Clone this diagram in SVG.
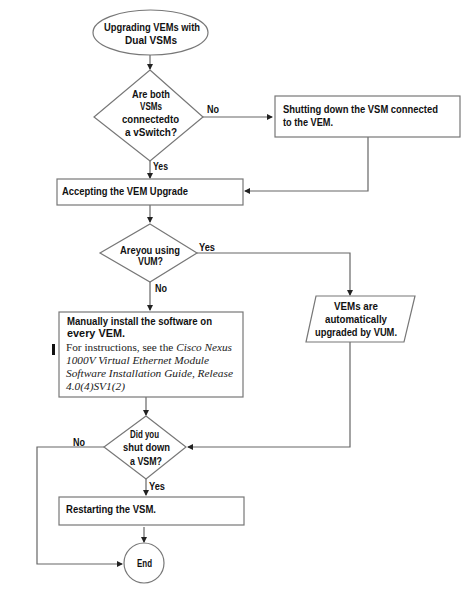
<svg xmlns="http://www.w3.org/2000/svg" width="474" height="593" viewBox="0 0 474 593">
<defs>
<marker id="ah" markerWidth="6" markerHeight="6" refX="5" refY="3" orient="auto" markerUnits="userSpaceOnUse">
<path d="M0,0 L6,3 L0,6 Z" fill="#222"/>
</marker>
<style>
.shape{fill:#fff;stroke:#777;stroke-width:1.2}
.conn{fill:none;stroke:#666;stroke-width:1.2}
.t{font-family:"Liberation Sans Narrow","Liberation Sans",Arial,sans-serif;font-weight:bold;font-size:11px;fill:#111}
.c{text-anchor:middle}
.s{font-family:"Liberation Serif","Times New Roman",serif;font-size:11.2px;fill:#222}
.i{font-style:italic}
</style>
</defs>
<rect width="474" height="593" fill="#fff"/>
<g id="connectors">
<path class="conn" d="M150,55 L150,69" marker-end="url(#ah)"/>
<path class="conn" d="M203,117 L272,117" marker-end="url(#ah)"/>
<path class="conn" d="M368,137 L368,191 L245,191" marker-end="url(#ah)"/>
<path class="conn" d="M150,161 L150,178" marker-end="url(#ah)"/>
<path class="conn" d="M150,205 L150,222" marker-end="url(#ah)"/>
<path class="conn" d="M197,253 L350,253 L350,295" marker-end="url(#ah)"/>
<path class="conn" d="M150,282 L150,310" marker-end="url(#ah)"/>
<path class="conn" d="M146,397 L146,415" marker-end="url(#ah)"/>
<path class="conn" d="M350,342 L350,447 L188,447" marker-end="url(#ah)"/>
<path class="conn" d="M104,447 L37,447 L37,564 L122,564" marker-end="url(#ah)"/>
<path class="conn" d="M146,479 L146,495" marker-end="url(#ah)"/>
<path class="conn" d="M144,527 L144,542" marker-end="url(#ah)"/>
<text class="t" x="207" y="113" textLength="12" lengthAdjust="spacingAndGlyphs">No</text>
<text class="t" x="153" y="170" textLength="15" lengthAdjust="spacingAndGlyphs">Yes</text>
<text class="t" x="199" y="251" textLength="16" lengthAdjust="spacingAndGlyphs">Yes</text>
<text class="t" x="155" y="292" textLength="12" lengthAdjust="spacingAndGlyphs">No</text>
<text class="t" x="73" y="446" textLength="12" lengthAdjust="spacingAndGlyphs">No</text>
<text class="t" x="149" y="490" textLength="16" lengthAdjust="spacingAndGlyphs">Yes</text>
</g>
<g id="start">
<ellipse class="shape" cx="150.5" cy="32.5" rx="57.5" ry="22.5"/>
<text class="t c" x="152" y="31" textLength="96" lengthAdjust="spacingAndGlyphs">Upgrading VEMs with</text>
<text class="t c" x="151" y="44" textLength="52" lengthAdjust="spacingAndGlyphs">Dual VSMs</text>
</g>
<g id="q-both-connected">
<polygon class="shape" points="150,70 203,117 150,161 94,117"/>
<text class="t c" x="151" y="98" textLength="38" lengthAdjust="spacingAndGlyphs">Are both</text>
<text class="t c" x="151" y="110" textLength="22" lengthAdjust="spacingAndGlyphs">VSMs</text>
<text class="t c" x="150.5" y="123" textLength="57" lengthAdjust="spacingAndGlyphs">connectedto</text>
<text class="t c" x="151" y="136" textLength="52" lengthAdjust="spacingAndGlyphs">a vSwitch?</text>
</g>
<g id="shutting-down">
<rect class="shape" x="275" y="96" width="185" height="41"/>
<text class="t" x="283" y="113" textLength="155" lengthAdjust="spacingAndGlyphs">Shutting down the VSM connected</text>
<text class="t" x="283" y="126" textLength="50" lengthAdjust="spacingAndGlyphs">to the VEM.</text>
</g>
<g id="accepting">
<rect class="shape" x="57" y="179" width="186" height="26"/>
<text class="t" x="62" y="195" textLength="126" lengthAdjust="spacingAndGlyphs">Accepting the VEM Upgrade</text>
</g>
<g id="q-vum">
<polygon class="shape" points="150,224 197,253 150,282 100,253"/>
<text class="t c" x="150" y="254" textLength="60" lengthAdjust="spacingAndGlyphs">Areyou using</text>
<text class="t c" x="150.5" y="265" textLength="25" lengthAdjust="spacingAndGlyphs">VUM?</text>
</g>
<g id="manual-install">
<rect class="shape" x="59" y="312" width="184" height="85"/>
<text class="t" x="67" y="325" textLength="145" lengthAdjust="spacingAndGlyphs">Manually install the software on</text>
<text class="t" x="67" y="337" textLength="58" lengthAdjust="spacingAndGlyphs">every VEM.</text>
<text class="s" x="66" y="351" textLength="166" lengthAdjust="spacingAndGlyphs">For instructions, see the <tspan class="i">Cisco Nexus</tspan></text>
<text class="s i" x="66" y="364" textLength="143" lengthAdjust="spacingAndGlyphs">1000V Virtual Ethernet Module</text>
<text class="s i" x="66" y="377" textLength="167" lengthAdjust="spacingAndGlyphs">Software Installation Guide, Release</text>
<text class="s i" x="66" y="390" textLength="59" lengthAdjust="spacingAndGlyphs">4.0(4)SV1(2)</text>
<rect x="52" y="344" width="3" height="11" fill="#111"/>
</g>
<g id="vum-auto">
<polygon class="shape" points="316,296 415,296 404,342 306,342"/>
<text class="t c" x="356" y="310" textLength="44" lengthAdjust="spacingAndGlyphs">VEMs are</text>
<text class="t c" x="356" y="323" textLength="62" lengthAdjust="spacingAndGlyphs">automatically</text>
<text class="t c" x="356" y="336" textLength="82" lengthAdjust="spacingAndGlyphs">upgraded by VUM.</text>
</g>
<g id="q-shut-down">
<polygon class="shape" points="146,416 186,447 146,479 104,447"/>
<text class="t c" x="144.5" y="438" textLength="29" lengthAdjust="spacingAndGlyphs">Did you</text>
<text class="t c" x="146.5" y="451" textLength="47" lengthAdjust="spacingAndGlyphs">shut down</text>
<text class="t c" x="146" y="465" textLength="32" lengthAdjust="spacingAndGlyphs">a VSM?</text>
</g>
<g id="restarting">
<rect class="shape" x="59" y="497" width="185" height="28"/>
<text class="t" x="66" y="513" textLength="90" lengthAdjust="spacingAndGlyphs">Restarting the VSM.</text>
</g>
<g id="end">
<circle class="shape" cx="144" cy="563" r="20"/>
<text class="t c" x="144.5" y="567" textLength="15" lengthAdjust="spacingAndGlyphs">End</text>
</g>
</svg>
